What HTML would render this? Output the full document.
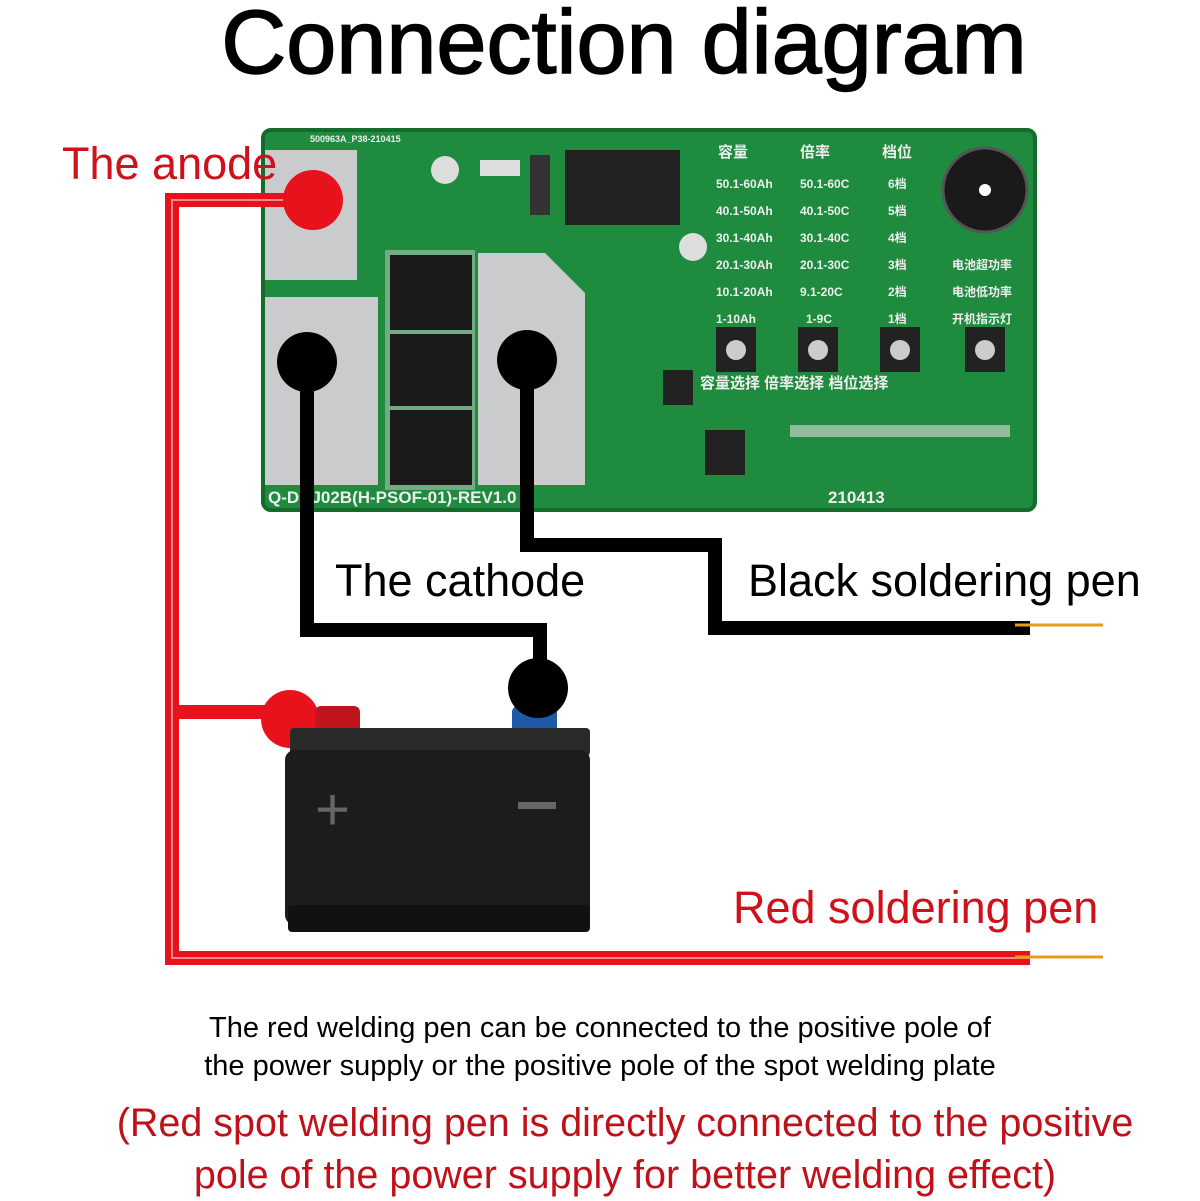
<!DOCTYPE html>
<html><head><meta charset="utf-8"><style>
body{margin:0;width:1200px;height:1200px;background:#fff;position:relative;overflow:hidden;font-family:"Liberation Sans","Noto Sans CJK SC",sans-serif}
.t{position:absolute;white-space:nowrap}
</style></head><body>
<div class="t" style="left:0;width:1248px;text-align:center;top:-8px;font-size:90px;color:#000;-webkit-text-stroke:1.5px #000">Connection diagram</div>
<svg width="1200" height="1200" style="position:absolute;left:0;top:0">
<rect x="263" y="130" width="772" height="380" rx="8" fill="#1f8b3f" stroke="#146b2c" stroke-width="4"/>
<rect x="265" y="150" width="92" height="130" fill="#c9cbcc"/>
<rect x="265" y="297" width="113" height="188" fill="#c9cbcc"/>
<path d="M478 253 H545 L585 293 V485 H478 Z" fill="#c9cbcc"/>
<path d="M385 250 H475 V490 H385 Z" fill="#c9cbcc" opacity="0.5"/>
<rect x="390" y="255" width="82" height="75" fill="#1a1a1a"/>
<rect x="390" y="334" width="82" height="72" fill="#1a1a1a"/>
<rect x="390" y="410" width="82" height="75" fill="#1a1a1a"/>
<rect x="565" y="150" width="115" height="75" fill="#222"/>
<circle cx="985" cy="190" r="42" fill="#1a1a1a" stroke="#555" stroke-width="3"/>
<circle cx="985" cy="190" r="6" fill="#fff"/>
<circle cx="445" cy="170" r="14" fill="#ddd"/>
<circle cx="693" cy="247" r="14" fill="#ddd"/>
<g fill="#222"><rect x="716" y="327" width="40" height="45"/><rect x="798" y="327" width="40" height="45"/><rect x="880" y="327" width="40" height="45"/><rect x="965" y="327" width="40" height="45"/></g>
<g fill="#ccc"><circle cx="736" cy="350" r="10"/><circle cx="818" cy="350" r="10"/><circle cx="900" cy="350" r="10"/><circle cx="985" cy="350" r="10"/></g>
<rect x="705" y="430" width="40" height="45" fill="#222"/>
<rect x="663" y="370" width="30" height="35" fill="#222"/>
<g fill="#ddd"><rect x="790" y="425" width="220" height="12" opacity="0.6"/><rect x="480" y="160" width="40" height="16"/><rect x="530" y="155" width="20" height="60" fill="#333"/></g>
<g fill="#eee" font-size="12" font-weight="bold">
<text x="310" y="142" font-size="9">500963A_P38-210415</text>
<text x="718" y="157" font-size="15">容量</text><text x="800" y="157" font-size="15">倍率</text><text x="882" y="157" font-size="15">档位</text>
<text x="716" y="188">50.1-60Ah</text><text x="800" y="188">50.1-60C</text><text x="888" y="188">6档</text>
<text x="716" y="215">40.1-50Ah</text><text x="800" y="215">40.1-50C</text><text x="888" y="215">5档</text>
<text x="716" y="242">30.1-40Ah</text><text x="800" y="242">30.1-40C</text><text x="888" y="242">4档</text>
<text x="716" y="269">20.1-30Ah</text><text x="800" y="269">20.1-30C</text><text x="888" y="269">3档</text><text x="952" y="269">电池超功率</text>
<text x="716" y="296">10.1-20Ah</text><text x="800" y="296">9.1-20C</text><text x="888" y="296">2档</text><text x="952" y="296">电池低功率</text>
<text x="716" y="323">1-10Ah</text><text x="806" y="323">1-9C</text><text x="888" y="323">1档</text><text x="952" y="323">开机指示灯</text>
<text x="700" y="388" font-size="15">容量选择 倍率选择 档位选择</text>
<text x="268" y="503" font-size="17">Q-DHJ02B(H-PSOF-01)-REV1.0</text>
<text x="828" y="503" font-size="17">210413</text>
</g>
<g fill="none" stroke="#e8121d" stroke-width="14">
<path d="M315 200 H172 V958 H1030"/>
<path d="M172 712 H290"/>
</g>
<path d="M315 200 H172 V958 H1030" fill="none" stroke="#fff" stroke-width="2" stroke-opacity="0.5"/>
<circle cx="313" cy="200" r="30" fill="#e8121d"/>
<circle cx="290" cy="719" r="29" fill="#e8121d"/>
<line x1="1015" y1="957" x2="1103" y2="957" stroke="#e89a1a" stroke-width="3"/>
<rect x="315" y="706" width="45" height="30" rx="6" fill="#c0151c"/>
<rect x="512" y="706" width="45" height="30" rx="6" fill="#1e5aa8"/>
<rect x="290" y="728" width="300" height="28" rx="4" fill="#2a2a2a"/>
<rect x="285" y="750" width="305" height="175" rx="10" fill="#1c1c1c"/>
<rect x="288" y="905" width="302" height="27" rx="4" fill="#111"/>
<text x="315" y="830" font-size="60" fill="#666">+</text>
<rect x="518" y="802" width="38" height="7" fill="#666"/>
<g fill="none" stroke="#000" stroke-width="14">
<path d="M307 362 V630 H540 V688"/>
<path d="M527 360 V545 H715 V628 H1030"/>
</g>
<circle cx="307" cy="362" r="30" fill="#000"/>
<circle cx="527" cy="360" r="30" fill="#000"/>
<circle cx="538" cy="688" r="30" fill="#000"/>
<line x1="1015" y1="625" x2="1103" y2="625" stroke="#e89a1a" stroke-width="3"/>
</svg>
<div class="t" style="left:62px;top:138px;font-size:45px;color:#d0101a">The anode</div>
<div class="t" style="left:335px;top:555px;font-size:45px;color:#000">The cathode</div>
<div class="t" style="left:748px;top:555px;font-size:45px;color:#000">Black soldering pen</div>
<div class="t" style="left:733px;top:882px;font-size:45px;color:#d0101a">Red soldering pen</div>
<div class="t" style="left:0;width:1200px;text-align:center;top:1009px;font-size:29px;color:#000;line-height:38px">The red welding pen can be connected to the positive pole of<br>the power supply or the positive pole of the spot welding plate</div>
<div class="t" style="left:0;width:1250px;text-align:center;top:1097px;font-size:39.5px;color:#c0101a;line-height:52px">(Red spot welding pen is directly connected to the positive<br>pole of the power supply for better welding effect)</div>
</body></html>
